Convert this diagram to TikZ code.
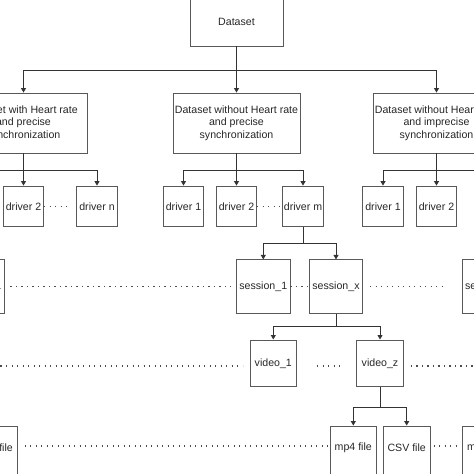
\documentclass[tikz,border=0pt]{standalone}
\usepackage{fontspec}
\setmainfont{Liberation Sans}
\usetikzlibrary{arrows.meta}
\begin{document}
\begin{tikzpicture}[x=1pt,y=-1pt,
  box/.style={draw=black!65, line width=0.9pt, inner sep=0pt, align=center,
    font=\fontsize{10.6}{12.7}\selectfont, text=black!85},
  l1box/.style={box, minimum width=127pt, minimum height=60pt},
  drvbox/.style={box, minimum width=40.5pt, minimum height=40.5pt},
  sesbox/.style={box, minimum width=53.3pt, minimum height=53.3pt},
  vidbox/.style={box, minimum width=46.7pt, minimum height=46.7pt},
  filebox/.style={box, minimum width=46.7pt, minimum height=50pt},
  arr/.style={draw=black!80, line width=0.9pt, -{Triangle[width=5pt,length=4.5pt]}},
  dotline/.style={draw=black!70, line width=1.1pt, dash pattern=on 1.2pt off 4.3pt}]
\useasboundingbox (0,0) rectangle (474,474);

% root
\node[box, minimum width=93pt, minimum height=48pt] (ds) at (236.5,22) {Dataset};

% level 1
\node[l1box] (l1a) at (23.5,123) {Dataset with Heart rate\\and precise\\synchronization};
\node[l1box] (l1b) at (236.5,123) {Dataset without Heart rate\\and precise\\synchronization};
\node[l1box] (l1c) at (436.5,123) {Dataset without Heart rate\\and imprecise\\synchronization};

% drivers
\coordinate (d1a) at (-31,186);
\node[drvbox] (d2a) at (23.5,206.3) {driver 2};
\node[drvbox] (dna) at (97,206.3) {driver n};
\node[drvbox] (d1b) at (183.5,206.3) {driver 1};
\node[drvbox] (d2b) at (236.5,206.3) {driver 2};
\node[drvbox] (dmb) at (303,206.3) {driver m};
\node[drvbox] (d1c) at (383,206.3) {driver 1};
\node[drvbox] (d2c) at (436.5,206.3) {driver 2};
\coordinate (dnc) at (510,186);

% sessions
\node[sesbox] (sL) at (-22.7,286.5) {session\_1};
\node[sesbox] (s1) at (263.3,286.5) {session\_1};
\node[sesbox] (sx) at (336,286.5) {session\_x};
\node[sesbox] (sR) at (489,286.5) {session\_1};

% videos
\coordinate (vL) at (-5,363.3);
\node[vidbox] (v1) at (273.3,363.3) {video\_1};
\node[vidbox] (vz) at (380,363.3) {video\_z};
\coordinate (vR) at (480,363.3);

% files
\node[filebox] (fL) at (-6.3,451) {\raisebox{3pt}[\height][\depth]{CSV file}};
\node[filebox] (mp4) at (353.3,451) {\raisebox{3pt}[\height][\depth]{mp4 file}};
\node[filebox] (csv) at (406.7,451) {\raisebox{3pt}[\height][\depth]{CSV file}};
\node[filebox] (fR) at (485.6,451) {\raisebox{3pt}[\height][\depth]{mp4 file}};

% tree connectors
\draw[arr] (ds.south) -- ++(0,24) -| (l1a.north);
\draw[arr] (ds.south) -- (l1b.north);
\draw[arr] (ds.south) -- ++(0,24) -| (l1c.north);

\draw[arr] (l1a.south) -- ++(0,17) -| (d1a);
\draw[arr] (l1a.south) -- (d2a.north);
\draw[arr] (l1a.south) -- ++(0,17) -| (dna.north);

\draw[arr] (l1b.south) -- ++(0,17) -| (d1b.north);
\draw[arr] (l1b.south) -- (d2b.north);
\draw[arr] (l1b.south) -- ++(0,17) -| (dmb.north);

\draw[arr] (l1c.south) -- ++(0,17) -| (d1c.north);
\draw[arr] (l1c.south) -- (d2c.north);
\draw[arr] (l1c.south) -- ++(0,17) -| (dnc);

\draw[arr] (dmb.south) -- ++(0,16.5) -| (s1.north);
\draw[arr] (dmb.south) -- ++(0,16.5) -| (sx.north);

\draw[arr] (sx.south) -- ++(0,13) -| (v1.north);
\draw[arr] (sx.south) -- ++(0,13) -| (vz.north);

\draw[arr] (vz.south) -- ++(0,20) -| (mp4.north);
\draw[arr] (vz.south) -- ++(0,20) -| (csv.north);

% dotted continuation lines
\draw[dotline, shorten >=10pt] (d2a.east) -- (dna.west);
\draw[dotline] (d2b.east) -- (dmb.west);

\draw[dotline, shorten <=6pt, shorten >=5pt] (sL.east) -- (s1.west);
\draw[dotline] (s1.east) -- (sx.west);
\draw[dotline, shorten <=7pt, shorten >=15pt] (sx.east) -- (sR.west);

\draw[dotline, shorten >=7pt] ([yshift=-2.7pt]vL) -- ([yshift=-2.7pt]v1.west);
\draw[dotline, shorten <=20pt, shorten >=17pt] ([yshift=-2.7pt]v1.east) -- ([yshift=-2.7pt]vz.west);
\draw[dotline, shorten <=7pt] ([yshift=-2.7pt]vz.east) -- ([yshift=-2.7pt]vR);

\draw[dotline, shorten <=7pt, shorten >=2pt] ([yshift=5pt]fL.east) -- ([yshift=5pt]mp4.west);
\draw[dotline, shorten <=3pt, shorten >=5pt] ([yshift=5pt]csv.east) -- ([yshift=5pt]fR.west);
\end{tikzpicture}
\end{document}
